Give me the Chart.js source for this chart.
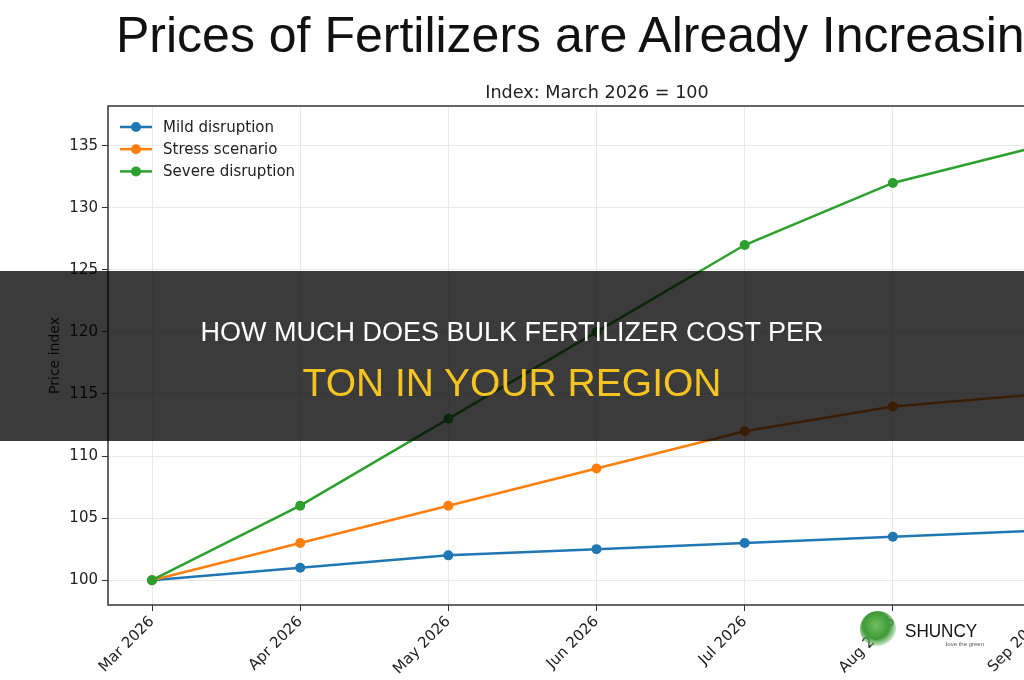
<!DOCTYPE html>
<html>
<head>
<meta charset="utf-8">
<script src="https://cdn.jsdelivr.net/npm/chart.js@4/dist/chart.umd.min.js"></script>
<style>
  html, body { margin: 0; padding: 0; background: #fff; }
  #page { position: relative; width: 1024px; height: 680px; overflow: hidden; background: #fff; }
  #chart { position: absolute; left: 0; top: 0; }
  .txt { position: absolute; white-space: nowrap; }
  #title { left: 116px; top: 10px; font: 50px/50px "Liberation Sans", Arial, sans-serif; color: #111; }
  #subtitle { left: 0; width: 1194px; text-align: center; top: 84px; font: 17.6px/17.6px "DejaVu Sans", sans-serif; color: #222; }
  #banner { position: absolute; left: 0; top: 271px; width: 1024px; height: 170px; background: rgba(0,0,0,0.77); }
  #line1 { left: 0; width: 1024px; text-align: center; top: 319px; font: 27px/27px "Liberation Sans", Arial, sans-serif; color: #fff; }
  #line2 { left: 0; width: 1024px; text-align: center; top: 363px; font: 39px/39px "Liberation Sans", Arial, sans-serif; color: #f6c420; }
  #logoIcon { position: absolute; left: 860px; top: 611px; width: 36px; height: 36px; border-radius: 50%;
    background: radial-gradient(circle at 45% 40%, #6fbf5a 0, #3f9a3a 45%, rgba(120,190,110,0.35) 70%, rgba(255,255,255,0) 72%); }
  #logoText { left: 905px; top: 622px; font: 18px/18px "Liberation Sans", Arial, sans-serif; color: #111; transform: scaleX(0.95); transform-origin: left; }
  #logoSub { left: 946px; top: 641px; font: 6px/6px "Liberation Sans", Arial, sans-serif; color: #555; }
</style>
</head>
<body>
<div id="page">
  <canvas id="chart" width="1110" height="680"></canvas>
  <div class="txt" id="title">Prices of Fertilizers are Already Increasing</div>
  <div class="txt" id="subtitle">Index: March 2026 = 100</div>
  <div id="banner"></div>
  <div class="txt" id="line1">HOW MUCH DOES BULK FERTILIZER COST PER</div>
  <div class="txt" id="line2">TON IN YOUR REGION</div>
  <div id="logoIcon"></div>
  <div class="txt" id="logoText">SHUNCY</div>
  <div class="txt" id="logoSub">love the green</div>
</div>
<script>
// ---- data ----
const months = ["Mar 2026", "Apr 2026", "May 2026", "Jun 2026", "Jul 2026", "Aug 2026", "Sep 2026"];
const mild = [100, 101, 102, 102.5, 103, 103.5, 104];
const stress = [100, 103, 106, 109, 112, 114, 115];
const severe = [100, 106, 113, 120, 127, 132, 135];
const seriesNames = ["Mild disruption", "Stress scenario", "Severe disruption"];
const seriesColors = ["#1f77b4", "#ff7f0e", "#2ca02c"];

const FONT = "DejaVu Sans";

function toPoints(arr) {
    return arr.map((v, i) => ({ x: i, y: v }));
}

// legend drawn inside the plot, top-left, like matplotlib
const insideLegend = {
    id: "insideLegend",
    afterDraw(chart) {
        const ctx = chart.ctx;
        const a = chart.chartArea;
        ctx.save();
        ctx.font = "15px " + FONT;
        ctx.textBaseline = "middle";
        chart.data.datasets.forEach((ds, i) => {
            const y = a.top + 21 + i * 22.2;
            const x0 = a.left + 12;
            ctx.strokeStyle = ds.borderColor;
            ctx.lineWidth = 2.5;
            ctx.beginPath();
            ctx.moveTo(x0, y);
            ctx.lineTo(x0 + 32, y);
            ctx.stroke();
            ctx.fillStyle = ds.borderColor;
            ctx.beginPath();
            ctx.arc(x0 + 16, y, 5, 0, Math.PI * 2);
            ctx.fill();
            ctx.fillStyle = "#222";
            ctx.fillText(ds.label, x0 + 43, y + 1);
        });
        ctx.restore();
    }
};

// axes frame on all four sides
const frame = {
    id: "frame",
    afterDatasetsDraw(chart) {
        const a = chart.chartArea;
        const ctx = chart.ctx;
        ctx.save();
        ctx.strokeStyle = "#333";
        ctx.lineWidth = 1.5;
        ctx.strokeRect(a.left, a.top, a.right - a.left, a.bottom - a.top);
        ctx.restore();
    }
};

const lists = [mild, stress, severe];
const datasets = lists.map((arr, i) => ({
    label: seriesNames[i],
    data: toPoints(arr),
    borderColor: seriesColors[i],
    backgroundColor: seriesColors[i],
    borderWidth: 2.5,
    pointRadius: 5,
    pointBorderWidth: 0,
    tension: 0,
    order: 2 - i
}));

new Chart(document.getElementById("chart"), {
    type: "line",
    data: { datasets },
    options: {
        responsive: false,
        animation: false,
        layout: { padding: { top: 106, right: 25, left: 0, bottom: 0 } },
        plugins: { legend: { display: false }, tooltip: { enabled: false } },
        scales: {
            x: {
                type: "linear",
                min: -0.297,
                max: 6.297,
                afterFit: s => { s.height = 75; },
                border: { display: false },
                grid: { color: "#e9e9e9", lineWidth: 1, tickColor: "#333", tickLength: 6 },
                ticks: {
                    stepSize: 1,
                    includeBounds: false,
                    autoSkip: false,
                    minRotation: 45,
                    maxRotation: 45,
                    padding: 2,
                    color: "#222",
                    font: { family: FONT, size: 15 },
                    callback: v => months[v] ?? ""
                }
            },
            y: {
                min: 98,
                max: 138.2,
                afterFit: s => { s.width = 108; },
                border: { display: false },
                grid: { color: "#e9e9e9", lineWidth: 1, tickColor: "#333", tickLength: 6 },
                title: {
                    display: true,
                    text: "Price index",
                    color: "#222",
                    font: { family: FONT, size: 14 },
                    padding: { top: 47, bottom: 0 }
                },
                ticks: {
                    stepSize: 5,
                    includeBounds: false,
                    padding: 4,
                    color: "#222",
                    font: { family: FONT, size: 15 }
                }
            }
        }
    },
    plugins: [frame, insideLegend]
});
</script>
</body>
</html>
